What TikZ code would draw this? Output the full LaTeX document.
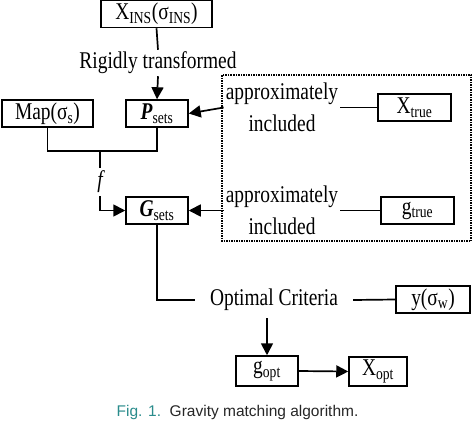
\documentclass[tikz,border=0pt]{standalone}
\usepackage{fontspec}
\setmainfont{Liberation Serif}[FakeStretch=0.81]
\newfontfamily\capfont{Liberation Sans}
\usetikzlibrary{arrows.meta,calc}
\definecolor{figteal}{HTML}{2A8C8C}

\begin{document}
\begin{tikzpicture}[
  x=1pt,y=-1pt,
  >={Triangle[length=12pt,width=12pt]},
  box/.style={draw,line width=1.5pt,inner sep=0pt,minimum height=27pt,font=\fontsize{24}{22}\selectfont},
  txt/.style={inner sep=2pt,font=\fontsize{24}{22}\selectfont},
  wire/.style={line width=1.7pt},
  dots/.style={densely dotted,line width=1.5pt}
]
  \useasboundingbox (0,0) rectangle (474,423);

  % boxes
  \node[box,minimum width=111pt] (xins) at (156.5,14) {X\textsubscript{INS}(σ\textsubscript{INS})};
  \node[box,minimum width=91pt] (map) at (47.5,113.5) {Map(σ\textsubscript{s})};
  \node[box,minimum width=62pt] (psets) at (157,113.5) {\textbf{\textit{P}}\textsubscript{sets}};
  \node[box,minimum width=62pt] (gsets) at (157,210.5) {\textbf{\textit{G}}\textsubscript{sets}};
  \node[box,minimum width=73pt] (xtrue) at (414.5,107.5) {X\textsubscript{true}};
  \node[box,minimum width=73pt] (gtrue) at (417.5,210.5) {g\textsubscript{true}};
  \node[box,minimum width=74pt] (yw) at (433,299.5) {y(σ\textsubscript{w})};
  \node[box,minimum width=62pt,minimum height=30pt] (gopt) at (267,371) {g\textsubscript{opt}};
  \node[box,minimum width=58pt,minimum height=29pt] (xopt) at (378,371.5) {X\textsubscript{opt}};

  % labels
  \node[txt,minimum height=23pt] (rigid) at (158,63) {Rigidly transformed};
  \node[txt,align=center] (appr1) at (282,107.5) {approximately\\[10pt]included};
  \node[txt,align=center] (appr2) at (282,210.5) {approximately\\[10pt]included};
  \node[txt,font=\fontsize{24}{22}\selectfont\itshape,minimum height=28pt] (f) at (100,182) {f};
  \node[txt,inner xsep=15pt,minimum height=36pt] (opt) at (274,300) {Optimal Criteria};
  \coordinate (mid) at (100,151);

  \draw[dots] (222,75) rectangle (471,241);

  % connectors
  \draw[wire] (xins.south) -- (rigid.north);
  \draw[wire,->] (rigid.south) -- (psets.north);
  \draw[wire] (map.south) |- (mid) -| (psets.south);
  \draw[wire] (mid) -- (f.north);
  \draw[wire,->] (f.south) |- (gsets.west);
  \draw[wire,->] (appr1.west) -- (psets.east);
  \draw[wire] (appr1.east) -- (xtrue.west);
  \draw[wire,->] (appr2.west) -- (gsets.east);
  \draw[wire] (appr2.east) -- (gtrue.west);
  \draw[wire] (gsets.south) |- (opt.west);
  \draw[wire] (opt.east) -- (yw.west);
  \draw[wire,->] (gopt.north |- opt.south) -- (gopt.north);
  \draw[wire,->] (gopt.east) -- (xopt.west);

  % caption
  \node[font=\capfont\fontsize{15.5}{18}\selectfont,text=black!85] (cap) at (237.5,412)
    {\textcolor{figteal}{Fig. 1.}\ \ Gravity matching algorithm.};
\end{tikzpicture}
\end{document}
